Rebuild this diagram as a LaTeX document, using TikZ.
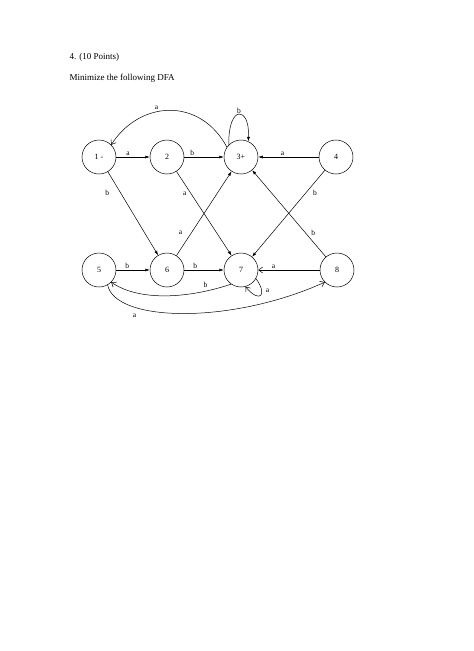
\documentclass[tikz,border=0pt]{standalone}
\usepackage{fontspec}
\setmainfont{Liberation Serif}
\usetikzlibrary{arrows.meta}

\tikzset{
  state/.style={draw, circle, minimum size=34pt, inner sep=0pt, font=\fontsize{8}{9}\selectfont},
  fa/.style={-{Latex[length=4.5pt,width=3pt]}},
  oa/.style={-{Straight Barb[length=4pt,width=6pt]}},
  lbl/.style={font=\fontsize{7.5}{9}\selectfont, inner sep=1pt}
}

\begin{document}
\begin{tikzpicture}[x=1pt, y=-1pt, line width=0.5pt]
  \useasboundingbox (0,0) rectangle (474,651);

  \node[anchor=west, font=\fontsize{9}{11}\selectfont] (head) at (66,57) {4. (10 Points)};
  \node[anchor=west, font=\fontsize{9}{11}\selectfont] (task) at (66,78) {Minimize the following DFA};

  \node[state] (s1) at (99,157) {1 -};
  \node[state] (s2) at (167,157) {2};
  \node[state] (s3) at (241,157) {3+};
  \node[state] (s4) at (336,157) {4};

  \node[state] (s5) at (99,270) {5};
  \node[state] (s6) at (167,270) {6};
  \node[state] (s7) at (241,270) {7};
  \node[state] (s8) at (337,270) {8};

  % top row
  \draw[fa] (s1) -- node[lbl, above, pos=.35] {a} (s2);
  \draw[fa] (s2) -- node[lbl, above, pos=.2] {b} (s3);
  \draw[fa] (s4) -- node[lbl, above, pos=.6] {a} (s3);
  \draw[oa] (s3.145) .. controls (200,97) and (140,100) .. node[lbl, pos=.6, above=1pt] {a} (s1.45);
  \draw[fa] (s3.135) .. controls (228,104) and (250,106) .. node[lbl, pos=.5, above] {b} (s3.65);

  % diagonals
  \draw[fa] (s1) -- node[lbl, pos=.25, left=10pt] {b} (s6);
  \draw[fa] (s2) -- node[lbl, pos=.26, left=3pt] {a} (s7);
  \draw[fa] (s6) -- node[lbl, pos=.27, left=8pt] {a} (s3);
  \draw[fa] (s4) -- node[lbl, pos=.26, right=6pt] {b} (s7);
  \draw[fa] (s8) -- node[lbl, pos=.28, right=5pt] {b} (s3);

  % bottom row
  \draw[fa] (s5) -- node[lbl, above, pos=.33] {b} (s6);
  \draw[fa] (s6) -- node[lbl, above, pos=.28] {b} (s7);
  \draw[oa] (s8) -- node[lbl, above, pos=.75] {a} (s7);
  \draw[oa] (s7.-30) .. controls (268,295) and (260,304) .. node[lbl, pos=.3, right=3pt] {a} (s7.-75);
  \draw[oa] (s7.-125) .. controls (190,298) and (140,302) .. node[lbl, pos=.2, above=2pt] {b} (s5.-45);
  \draw[oa] (s5.-60) .. controls (115,322) and (230,325) .. node[lbl, pos=.27, below=5pt] {a} (s8.-135);
\end{tikzpicture}
\end{document}
